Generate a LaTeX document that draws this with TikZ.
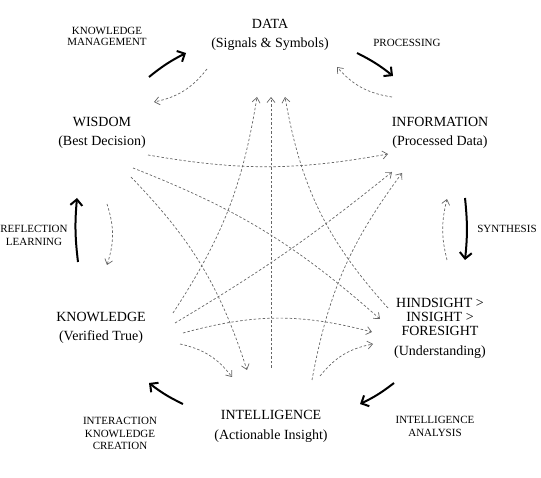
\documentclass[tikz,border=0pt]{standalone}
\usepackage{fontspec}
\setmainfont{Liberation Serif}
\usetikzlibrary{arrows.meta}

\begin{document}
\begin{tikzpicture}[x=1pt, y=1pt,
    stage/.style={align=center, inner sep=0pt, font=\fontsize{14}{14}\selectfont},
    tag/.style={align=center, inner sep=0pt, font=\fontsize{11}{12.5}\selectfont},
    solidflow/.style={line width=2pt, -{Straight Barb[length=6pt,width=12pt]}},
    dashflow/.style={draw=black!60, line width=0.7pt, dash pattern=on 2.5pt off 2pt, -{Straight Barb[length=5pt,width=8pt]}}]
             \useasboundingbox (0,0) rectangle (541,477);

             \node[stage] (dat) at (270,442.5) {DATA\\[5pt](Signals \& Symbols)};
             \node[stage] (wis) at (102,344) {WISDOM\\[5pt](Best Decision)};
             \node[stage] (inf) at (440,344) {INFORMATION\\[5pt](Processed Data)};
             \node[stage] (kno) at (101,149) {KNOWLEDGE\\[5pt](Verified True)};
             \node[stage] (hin) at (440,149) {HINDSIGHT >\\INSIGHT >\\FORESIGHT\\[6pt](Understanding)};
             \node[stage] (int) at (271,51) {INTELLIGENCE\\[6pt](Actionable Insight)};

             \node[tag] (km) at (107,440.5) {KNOWLEDGE\\[-1pt]MANAGEMENT};
             \node[tag] (pro) at (407,434) {PROCESSING};
             \node[tag] (syn) at (507,248) {SYNTHESIS};
             \node[tag] (ana) at (435,50.5) {INTELLIGENCE\\ANALYSIS};
             \node[tag] (cre) at (120,43.5) {INTERACTION\\KNOWLEDGE\\CREATION};
             \node[tag] (ref) at (34,241.5) {REFLECTION\\LEARNING};

             \draw[solidflow] ([shift={(47,56)}]wis.center) to[bend left=6] ([shift={(-84,-18.5)}]dat.center);
             \draw[solidflow] ([shift={(87,-18.5)}]dat.center) to[bend left=6] ([shift={(-47,57)}]inf.center);
             \draw[solidflow] ([shift={(25,-65)}]inf.center) to[bend left=6] ([shift={(25,68)}]hin.center);
             \draw[solidflow] ([shift={(-46,-55)}]hin.center) to[bend left=6] ([shift={(89,22)}]int.center);
             \draw[solidflow] ([shift={(-88,22)}]int.center) to[bend left=6] ([shift={(48,-55)}]kno.center);
             \draw[solidflow] ([shift={(-23,66)}]kno.center) to[bend left=6] ([shift={(-25,-65)}]wis.center);

             \draw[dashflow] ([shift={(-63,-34.5)}]dat.center) to[bend left=20] ([shift={(52,31)}]wis.center);
             \draw[dashflow] ([shift={(-48,36)}]inf.center) to[bend left=20] ([shift={(67,-32.5)}]dat.center);
             \draw[dashflow] ([shift={(46,-22)}]wis.center) to[bend right=10] ([shift={(-52,-21)}]inf.center);
             \draw[dashflow] ([shift={(31,-35)}]wis.center) to[bend left=10] ([shift={(-60,9)}]hin.center);
             \draw[dashflow] ([shift={(29,-44)}]wis.center) to[bend left=13] ([shift={(-24,56)}]int.center);
             \draw[dashflow] ([shift={(5,-71)}]wis.center) to[bend left=18] ([shift={(6,63)}]kno.center);
             \draw[dashflow] ([shift={(72,15)}]kno.center) to[bend right=12] ([shift={(-13,-62.5)}]dat.center);
             \draw[dashflow] ([shift={(0,58)}]int.center) -- ([shift={(1,-62.5)}]dat.center);
             \draw[dashflow] ([shift={(-52,20)}]hin.center) to[bend left=16] ([shift={(15,-62.5)}]dat.center);
             \draw[dashflow] ([shift={(74,5)}]kno.center) to[bend right=4] ([shift={(-48,-39)}]inf.center);
             \draw[dashflow] ([shift={(82,-5)}]kno.center) to[bend left=15] ([shift={(-68,-4)}]hin.center);
             \draw[dashflow] ([shift={(79,-16)}]kno.center) to[bend left=20] ([shift={(-39,49)}]int.center);
             \draw[dashflow] ([shift={(49,50)}]int.center) to[bend left=20] ([shift={(-67,-16)}]hin.center);
             \draw[dashflow] ([shift={(41,46)}]int.center) to[bend left=13] ([shift={(-38,-40)}]inf.center);
             \draw[dashflow] ([shift={(7,68)}]hin.center) to[bend left=14] ([shift={(7,-66)}]inf.center);
             \end{tikzpicture}
\end{document}
